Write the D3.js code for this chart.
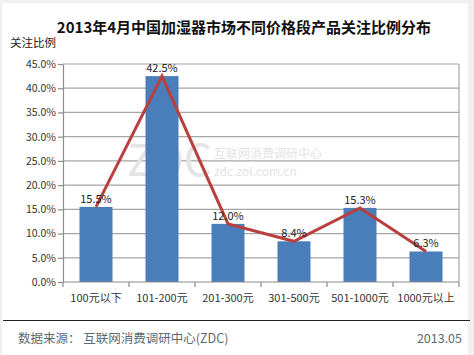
<!DOCTYPE html>
<html><head><meta charset="utf-8">
<script src="https://cdn.jsdelivr.net/npm/d3@7"></script>
<style>
body{margin:0;background:#fff;}
svg{display:block;}
text{font-family:"Noto Sans CJK SC","DejaVu Sans",sans-serif;}
</style></head>
<body>
<script>
const categories = ["100元以下","101-200元","201-300元","301-500元","501-1000元","1000元以上"];
const values = [15.5, 42.5, 12.0, 8.4, 15.3, 6.3];
const yTicks = [0,5,10,15,20,25,30,35,40,45];
const titleText = "2013年4月中国加湿器市场不同价格段产品关注比例分布";
const yAxisTitle = "关注比例";
const sourceText = "数据来源：  互联网消费调研中心(ZDC)";
const dateText = "2013.05";

const W=474,H=355;
const svg=d3.select("body").append("svg").attr("width",W).attr("height",H);
// outer frame
svg.append("rect").attr("x",0).attr("y",0).attr("width",W).attr("height",H).attr("fill","#f0f0f0");
svg.append("rect").attr("x",2).attr("y",3).attr("width",466).attr("height",H-3).attr("fill","#fff");

const m={l:63,r:459,t:64,b:282};
const x=d3.scaleBand().domain(categories).range([m.l,m.r]).paddingInner(0.5).paddingOuter(0.25);
const xOuter=d3.scaleBand().domain(categories).range([m.l,m.r]);
const y=d3.scaleLinear().domain([0,45]).range([m.b,m.t]);

// gridlines
svg.append("g").selectAll("line").data(yTicks.filter(d=>d>0)).join("line")
 .attr("x1",m.l).attr("x2",m.r).attr("y1",d=>y(d)).attr("y2",d=>y(d))
 .attr("stroke","#a6a6a6").attr("stroke-width",1.2);
// right border
svg.append("line").attr("x1",m.r).attr("x2",m.r).attr("y1",m.t).attr("y2",m.b).attr("stroke","#a6a6a6").attr("stroke-width",1.2);

// watermark
const wm=svg.append("g").attr("fill","#e4e4e4");
wm.append("text").attr("x",127).attr("y",176).attr("font-family","Liberation Serif,serif").attr("font-size",44).text("ZDC");
wm.append("text").attr("x",214).attr("y",158).attr("font-size",12).attr("font-family","Liberation Serif,serif").text("互联网消费调研中心");
wm.append("text").attr("x",214).attr("y",176).attr("font-size",12).attr("font-family","Liberation Serif,serif").text("zdc.zol.com.cn");

// bars
svg.append("g").selectAll("rect").data(values).join("rect")
 .attr("x",(d,i)=>x(categories[i])).attr("width",x.bandwidth())
 .attr("y",d=>y(d)).attr("height",d=>y(0)-y(d)).attr("fill","#4a7ebb");

// axes
const ya=d3.axisLeft(y).tickValues(yTicks).tickFormat(d=>d.toFixed(1)+"%").tickSize(5).tickSizeOuter(0);
const gy=svg.append("g").attr("transform",`translate(${m.l},0)`).call(ya);
gy.selectAll("path,line").attr("stroke","#8c8c8c").attr("stroke-width",1.2);
gy.selectAll("text").attr("font-family","DejaVu Sans,sans-serif").attr("font-size",10.5).attr("fill","#333").attr("x",-7);

const gx=svg.append("g");
gx.append("line").attr("x1",m.l).attr("x2",m.r).attr("y1",m.b).attr("y2",m.b).attr("stroke","#8c8c8c").attr("stroke-width",1.2);
gx.selectAll("line.t").data(d3.range(categories.length+1)).join("line").attr("class","t")
 .attr("x1",i=>m.l+i*xOuter.step()).attr("x2",i=>m.l+i*xOuter.step()).attr("y1",m.b).attr("y2",m.b+5)
 .attr("stroke","#8c8c8c").attr("stroke-width",1.2);
gx.selectAll("text").data(categories).join("text")
 .attr("x",d=>xOuter(d)+xOuter.bandwidth()/2).attr("y",m.b+20).attr("text-anchor","middle")
 .attr("font-size",11).attr("fill","#333").text(d=>d);

// line
const line=d3.line().x((d,i)=>x(categories[i])+x.bandwidth()/2).y(d=>y(d));
svg.append("path").datum(values).attr("d",line).attr("fill","none").attr("stroke","#b8403e").attr("stroke-width",3).attr("stroke-linejoin","miter");

// data labels
svg.append("g").selectAll("text").data(values).join("text")
 .attr("x",(d,i)=>x(categories[i])+x.bandwidth()/2).attr("y",d=>y(d)-4)
 .attr("text-anchor","middle").attr("font-family","DejaVu Sans,sans-serif").attr("font-size",11).attr("fill","#222")
 .text(d=>d.toFixed(1)+"%");

// titles
svg.append("text").attr("x",244).attr("y",33).attr("text-anchor","middle").attr("font-size",15).attr("font-weight","bold").attr("fill","#111").text(titleText);
svg.append("text").attr("x",10).attr("y",47).attr("font-size",11.5).attr("fill","#222").text(yAxisTitle);

// footer
svg.append("line").attr("x1",3).attr("x2",470).attr("y1",320.5).attr("y2",320.5).attr("stroke","#222").attr("stroke-width",1.2);
svg.append("text").attr("x",18).attr("y",343).attr("font-size",12.5).attr("fill","#5b6b73").text(sourceText);
svg.append("text").attr("x",462).attr("y",343).attr("text-anchor","end").attr("font-size",12.5).attr("fill","#5b6b73").text(dateText);
</script>
</body></html>
